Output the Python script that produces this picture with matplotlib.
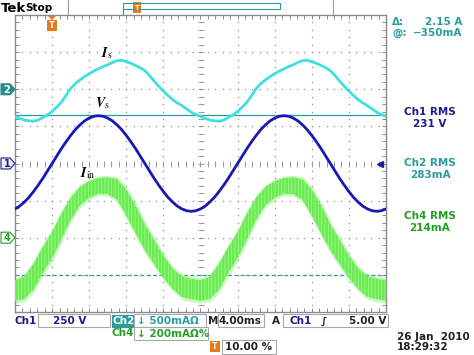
import numpy as np
import matplotlib
matplotlib.use("Agg")
import matplotlib.pyplot as plt
from matplotlib.patches import Polygon, Rectangle
from matplotlib.transforms import Affine2D

# time base: M 4.00ms/div, 10 div, trigger at 10 %
t_fine = list(np.arange(-4, 36.01, 0.5))   # Ch1 / Ch2 samples
t_coarse = list(range(-4, 37))             # Ch4 samples

# Ch1 - supply voltage Vs (V), 250 V/div
vs_V = [-306, -287, -260, -228, -189, -146, -100, -50,
        0, 50, 100, 146, 189, 228, 260, 287, 306, 318, 322, 318, 306, 287, 260, 228, 189, 146, 100, 50,
        0, -50, -100, -146, -189, -228, -260, -287, -306, -318, -322, -318, -306, -287, -260, -228, -189, -146, -100, -50,
        0, 50, 100, 146, 189, 228, 260, 287, 306, 318, 322, 318, 306, 287, 260, 228, 189, 146, 100, 50,
        0, -50, -100, -146, -189, -228, -260, -287, -306, -318, -322, -318, -306]

# Ch2 - supply current Is (mA), 500 mA/div
is_mA = [-365, -392, -415, -425, -430, -415, -380, -345,
         -300, -240, -175, -85, 10, 75, 125, 170, 210, 245, 275, 305, 330, 360, 385, 390, 370, 350, 320, 290,
         250, 185, 110, 40, -25, -85, -140, -185, -220, -265, -310, -340, -365, -392, -415, -425, -430, -415, -380, -345,
         -300, -240, -175, -85, 10, 75, 125, 170, 210, 245, 275, 305, 330, 360, 385, 390, 370, 350, 320, 290,
         250, 185, 110, 40, -25, -85, -140, -185, -220, -265, -310, -340, -365]

# Ch4 - input current Iin (mA), 200 mA/div: centre of the noisy trace and its half width
iin_mA = [-284, -270, -210, -120,
          -40, 60, 156, 224, 260, 280, 280, 260, 190, 100,
          4, -76, -156, -220, -264, -276, -284, -270, -210, -120,
          -40, 60, 156, 224, 260, 280, 280, 260, 190, 100,
          4, -76, -156, -220, -264, -276, -284]
iin_band = [55, 60, 70, 70,
            70, 70, 60, 50, 45, 42, 45, 55, 70, 75,
            70, 65, 60, 55, 55, 55, 55, 60, 70, 70,
            70, 70, 60, 50, 45, 42, 45, 55, 70, 75,
            70, 65, 60, 55, 55, 55, 55]

# cursors on Ch2 (mA)
cursor_mA = [-350, -2500]

rms_labels = [("Ch1 RMS", "231 V"), ("Ch2 RMS", "283mA"), ("Ch4 RMS", "214mA")]

NAVY = "#1c1c8c"
TEAL = "#2a9c9c"
CYAN = "#3ee0e0"
BLUE = "#1818b4"
GREEN = "#6cec52"
DGREEN = "#22a022"
ORANGE = "#e8781c"
GRID = "#9a9a9a"

plt.rcParams["hatch.linewidth"] = 0.5
plt.rcParams["mathtext.fontset"] = "stix"

W, H = 474, 355
fig = plt.figure(figsize=(W / 100, H / 100), dpi=100)
pix = Affine2D().scale(1 / W, -1 / H).translate(0, 1) + fig.transFigure

ax = fig.add_axes([15 / W, 1 - 312 / H, 371 / W, 297 / H])
ax.set_xlim(-4, 36)
ax.set_ylim(-4, 4)
for s in ax.spines.values():
    s.set_color("#8a8a8a")
    s.set_linewidth(1.0)
ax.set_xticks(np.arange(-4, 36.01, 0.8))
ax.set_yticks(np.arange(-4, 4.01, 0.2))
ax.tick_params(direction="in", length=3, width=0.7, color="#8a8a8a",
               top=True, right=True, labelbottom=False, labelleft=False)

# graticule dots
ys = np.arange(-4, 4.01, 0.2)
xs = np.arange(-4, 36.01, 0.8)
for tg in [0, 4, 8, 12, 20, 24, 28, 32]:
    ax.scatter([tg] * len(ys), ys, s=1.2, color=GRID, lw=0, zorder=1)
for yg in [-3, -2, -1, 1, 2, 3]:
    ax.scatter(xs, [yg] * len(xs), s=1.2, color=GRID, lw=0, zorder=1)
ax.plot(xs, [0] * len(xs), ls="none", marker="|", ms=5, mew=0.7, color=GRID, zorder=1)
ax.plot([16] * len(ys), ys, ls="none", marker="_", ms=5, mew=0.7, color=GRID, zorder=1)
ax.scatter([16] * len(ys), ys, s=1.2, color=GRID, lw=0, zorder=1)
ax.scatter(xs, [0] * len(xs), s=1.2, color=GRID, lw=0, zorder=1)

# cursors
c_div = [2 + c / 500 for c in cursor_mA]
ax.axhline(c_div[0], color=TEAL, lw=0.9, zorder=2)
ax.axhline(c_div[1], color=TEAL, lw=0.9, ls=(0, (3, 2)), zorder=2)

# Iin (Ch4, offset -2 div)
tc = np.array(t_coarse)
mid = np.array(iin_mA) / 200 - 2
band = np.array(iin_band) / 200
ax.fill_between(tc, mid - band * 1.25, mid + band * 1.25, color=GREEN, alpha=0.35, lw=0, zorder=3)
ax.fill_between(tc, mid - band, mid + band, facecolor=GREEN, edgecolor="#a6f796",
                hatch="|||||", lw=0, zorder=3)

# Vs (Ch1, centre)
tf = np.array(t_fine)
ax.plot(tf, np.array(vs_V) / 250, color=BLUE, lw=2.0, zorder=4)
# Is (Ch2, offset +2 div)
ax.plot(tf, np.array(is_mA) / 500 + 2, color=CYAN, lw=2.0, zorder=5)

# trigger level arrow on right edge
ax.plot([35.4], [0], marker="<", ms=4.5, color=NAVY, clip_on=False, zorder=6)

# trace labels
fig.text(107, 53, r"$\mathbfit{I}_{\mathrm{s}}$", transform=pix, fontsize=10, ha="center", va="center")
fig.text(102, 103, r"$\mathbfit{V}_{\mathrm{s}}$", transform=pix, fontsize=10, ha="center", va="center")
fig.text(88, 173, r"$\mathbfit{I}_{\mathrm{in}}$", transform=pix, fontsize=10, ha="center", va="center")


def tag(y, label, fc, ec, tc):
    pts = [(1, y - 5.5), (10, y - 5.5), (15, y), (10, y + 5.5), (1, y + 5.5)]
    fig.add_artist(Polygon(pts, closed=True, transform=pix, fc=fc, ec=ec, lw=0.8))
    fig.text(7, y + 0.5, label, transform=pix, fontsize=7, color=tc, weight="bold",
             ha="center", va="center")


tag(89.3, "2", "#2a8a8a", "#2a8a8a", "white")
tag(163.5, "1", "#ececff", NAVY, NAVY)
tag(237.7, "4", "white", DGREEN, DGREEN)

# trigger position marker at the top of the graticule
fig.add_artist(Polygon([(48, 16), (56, 16), (52, 20)], transform=pix, fc=ORANGE, ec="none"))
fig.add_artist(Rectangle((47, 20), 10, 11, transform=pix, fc=ORANGE, ec="none"))
fig.text(52, 26, "T", transform=pix, fontsize=6, color="white", weight="bold", ha="center", va="center")

# header
fig.text(1, 8, "Tek", transform=pix, fontsize=9.5, weight="bold", ha="left", va="center")
fig.text(25, 8, "Stop", transform=pix, fontsize=7.5, weight="bold", ha="left", va="center")
fig.add_artist(plt.Line2D([68, 68], [0, 14], transform=pix, color="#999999", lw=0.8))
fig.add_artist(plt.Line2D([333, 333], [0, 14], transform=pix, color="#999999", lw=0.8))
fig.add_artist(plt.Line2D([123, 123, 125], [14, 3, 3], transform=pix, color="#777777", lw=0.8))
fig.add_artist(plt.Line2D([123, 280, 280, 125], [9, 9, 3, 3], transform=pix, color=TEAL, lw=0.8))
fig.add_artist(Rectangle((133, 2), 8, 11, transform=pix, fc=ORANGE, ec="none"))
fig.text(137, 8, "T", transform=pix, fontsize=5, color="white", weight="bold", ha="center", va="center")

# cursor readout
fig.text(392, 22, "\u0394:", transform=pix, fontsize=7.5, color=TEAL, weight="bold", ha="left", va="center")
fig.text(462, 22, "2.15 A", transform=pix, fontsize=7.5, color=TEAL, weight="bold", ha="right", va="center")
fig.text(392, 33, "@:", transform=pix, fontsize=7.5, color=TEAL, weight="bold", ha="left", va="center")
fig.text(462, 33, "\u2212350mA", transform=pix, fontsize=7.5, color=TEAL, weight="bold", ha="right", va="center")

# RMS measurements
for (l1, l2), y, c in zip(rms_labels, [112, 163.5, 216], [NAVY, TEAL, DGREEN]):
    fig.text(430, y, l1, transform=pix, fontsize=7.5, color=c, weight="bold", ha="center", va="center")
    fig.text(430, y + 12, l2, transform=pix, fontsize=7.5, color=c, weight="bold", ha="center", va="center")


def box(x0, x1, y0, y1, fc="white", ec="#a8a8a8"):
    fig.add_artist(Rectangle((x0, y0), x1 - x0, y1 - y0, transform=pix, fc=fc, ec=ec, lw=0.8))


# bottom status line
fs = 7.5
box(38, 110, 314, 327)
fig.text(15, 320.5, "Ch1", transform=pix, fontsize=fs, color=NAVY, weight="bold", va="center")
fig.text(53, 320.5, "250 V", transform=pix, fontsize=fs, color=NAVY, weight="bold", va="center")
box(112, 134, 314.5, 326.5, fc="#2a9c9c", ec="#2a9c9c")
fig.text(113, 320.5, "Ch2", transform=pix, fontsize=fs, color="white", weight="bold", va="center")
box(134, 206, 314, 327)
fig.text(137, 320.5, "\u2193 500mA\u03a9", transform=pix, fontsize=fs, color=TEAL, weight="bold", va="center")
fig.text(208, 320.5, "M", transform=pix, fontsize=fs, color="#222222", weight="bold", va="center")
box(218, 264, 314, 327)
fig.text(219, 320.5, "4.00ms", transform=pix, fontsize=fs, color="#222222", weight="bold", va="center")
fig.text(272, 320.5, "A", transform=pix, fontsize=fs, color="#222222", weight="bold", va="center")
box(283, 388, 314, 327)
fig.text(290, 320.5, "Ch1", transform=pix, fontsize=fs, color=NAVY, weight="bold", va="center")
fig.text(321, 320.5, "\u222b", transform=pix, fontsize=fs, color="#222222", weight="bold", va="center")
fig.text(386, 320.5, "5.00 V", transform=pix, fontsize=fs, color="#222222", weight="bold", va="center", ha="right")

box(134, 208, 327, 340)
fig.text(112, 333.5, "Ch4", transform=pix, fontsize=fs, color=DGREEN, weight="bold", va="center")
fig.text(137, 333.5, "\u2193 200mA\u03a9%", transform=pix, fontsize=fs, color=DGREEN, weight="bold", va="center")

fig.add_artist(Rectangle((210, 341), 10, 11, transform=pix, fc=ORANGE, ec="none"))
fig.text(215, 346.5, "T", transform=pix, fontsize=5.5, color="white", weight="bold", ha="center", va="center")
box(222, 276, 340, 354)
fig.text(225, 347, "10.00 %", transform=pix, fontsize=fs, color="#222222", weight="bold", va="center")

fig.text(397, 336.5, "26 Jan  2010", transform=pix, fontsize=fs, color="#222222", weight="bold", va="center")
fig.text(397, 347.5, "18:29:32", transform=pix, fontsize=fs, color="#222222", weight="bold", va="center")

fig.savefig("out.png", dpi=100)
